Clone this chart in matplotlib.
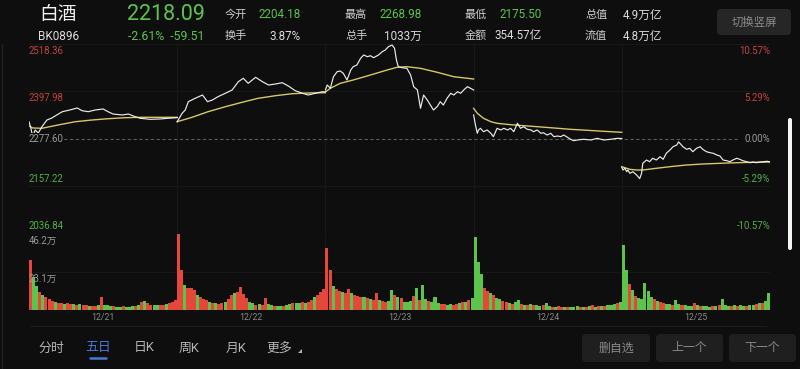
import numpy as np
import matplotlib
matplotlib.use("Agg")
import matplotlib.pyplot as plt
import matplotlib.transforms as mtransforms
from matplotlib.patches import FancyBboxPatch, Polygon

plt.rcParams['font.family'] = ['Roboto', 'Noto Sans CJK SC', 'DejaVu Sans']

# ---- data ----
prev_close = 2277.60
price_levels = [2518.36, 2397.98, 2277.60, 2157.22, 2036.84]
vol_levels = [46.2, 23.1]          # 万
days = ['12/21', '12/22', '12/23', '12/24', '12/25']

# price line, minute index within day -> price
p1_t = [0, 3, 6, 10, 15, 21, 29, 37, 45, 54, 66, 78, 86, 96, 107, 120, 128, 136, 151, 161, 169, 180, 196, 212, 225, 240]
p1 = [2320.4, 2304.4, 2282.2, 2299.3, 2291.6, 2307.7, 2324.7, 2329.8, 2337.5, 2345.9, 2350.2, 2355.3, 2348.4,
      2345.9, 2350.2, 2352.8, 2345.9, 2340.0, 2337.5, 2340.0, 2334.9, 2329.1, 2326.5, 2327.3, 2329.1, 2330.6]
p2_t = [0, 8, 13, 18, 29, 41, 49, 57, 66, 78, 89, 99, 107, 115, 127, 138, 148, 159, 170, 180, 191, 203, 212, 224, 235, 240]
p2 = [2320.4, 2341.8, 2350.2, 2371.4, 2380.0, 2388.4, 2371.4, 2375.7, 2384.1, 2392.8, 2401.2, 2422.3, 2431.0,
      2418.2, 2433.5, 2422.3, 2413.9, 2416.4, 2419.8, 2411.4, 2399.4, 2392.8, 2388.4, 2392.8, 2396.8, 2396.1]
p3_t = [0, 3, 8, 13, 19, 24, 29, 35, 41, 45, 51, 57, 62, 68, 73, 78, 86, 92, 97, 102, 108, 112, 115, 118, 124,
        132, 138, 143, 149, 154, 159, 165, 170, 175, 181, 186, 191, 197, 203, 208, 214, 219, 224, 230, 235, 240]
p3 = [2401.2, 2413.9, 2405.5, 2435.0, 2447.8, 2449.6, 2443.7, 2426.6, 2452.1, 2460.5, 2464.9, 2481.9, 2490.3,
      2486.0, 2488.5, 2483.5, 2490.3, 2498.7, 2503.1, 2511.5, 2515.8, 2507.4, 2477.6, 2460.5, 2458.0, 2456.4,
      2439.4, 2409.6, 2401.2, 2354.5, 2388.4, 2375.7, 2362.9, 2350.2, 2358.6, 2371.4, 2362.9, 2380.0, 2392.8,
      2388.4, 2396.8, 2392.8, 2401.2, 2409.6, 2405.5, 2401.2]
p4_t = [0, 3, 6, 8, 11, 16, 22, 28, 32, 38, 44, 49, 55, 60, 65, 71, 76, 81, 87, 93, 97, 103, 109, 113, 119,
        125, 130, 136, 141, 146, 152, 157, 162, 168, 178, 190, 200, 211, 222, 233, 240]
p4 = [2337.5, 2312.0, 2290.8, 2299.3, 2303.6, 2294.9, 2299.3, 2290.8, 2282.2, 2303.6, 2299.3, 2303.6, 2299.3,
      2303.6, 2294.9, 2316.3, 2303.6, 2307.7, 2301.0, 2299.3, 2294.9, 2299.3, 2290.8, 2292.4, 2286.5, 2290.8,
      2282.2, 2284.0, 2282.2, 2286.5, 2280.7, 2275.6, 2272.0, 2273.8, 2275.6, 2273.8, 2278.1, 2273.8, 2275.6,
      2278.1, 2277.6]
p5_t = [0, 2, 5, 8, 10, 13, 18, 24, 29, 32, 34, 40, 45, 50, 56, 62, 67, 72, 78, 83, 89, 92, 99, 105, 110,
        115, 121, 127, 131, 137, 143, 148, 154, 159, 164, 170, 175, 180, 186, 191, 196, 202, 208, 212, 218,
        224, 229, 235, 240]
p5 = [2204.2, 2197.3, 2201.7, 2193.0, 2197.3, 2188.9, 2193.0, 2184.6, 2175.5, 2188.9, 2214.4, 2222.8, 2218.5,
      2227.2, 2222.8, 2231.2, 2224.6, 2239.9, 2248.3, 2256.7, 2261.0, 2269.0, 2256.7, 2250.1, 2252.6, 2244.0,
      2252.6, 2256.7, 2250.1, 2244.0, 2241.4, 2239.9, 2235.6, 2233.0, 2222.8, 2221.0, 2218.5, 2222.8, 2227.2,
      2224.6, 2221.0, 2218.5, 2215.9, 2217.7, 2215.9, 2217.7, 2218.5, 2219.5, 2218.1]

# average price line
a1_t = [0, 6, 21, 47, 75, 102, 128, 156, 183, 209, 240]
a1 = [2309.4, 2304.4, 2303.6, 2312.0, 2320.4, 2324.7, 2328.0, 2330.6, 2331.6, 2331.6, 2331.6]
a2_t = [0, 24, 50, 78, 105, 131, 159, 186, 212, 240]
a2 = [2320.4, 2331.6, 2345.9, 2358.6, 2369.8, 2380.0, 2386.6, 2391.7, 2393.5, 2394.3]
a3_t = [0, 8, 24, 45, 73, 100, 116, 132, 154, 181, 208, 240]
a3 = [2396.1, 2405.5, 2418.2, 2426.6, 2439.4, 2452.1, 2459.0, 2460.5, 2456.4, 2446.3, 2435.0, 2429.2]
a4_t = [0, 6, 16, 28, 38, 60, 81, 103, 130, 157, 184, 211, 240]
a4 = [2354.5, 2341.8, 2329.1, 2320.4, 2316.3, 2312.8, 2310.2, 2307.7, 2304.4, 2301.0, 2298.5, 2295.9, 2293.4]
a5_t = [0, 13, 24, 34, 56, 78, 105, 131, 159, 186, 212, 240]
a5 = [2205.8, 2199.1, 2197.3, 2197.3, 2201.7, 2205.8, 2210.1, 2212.6, 2214.4, 2215.9, 2217.0, 2217.7]

# volume, 5-minute buckets (万)
v1 = [30.4, 20.1, 14.6, 10.9, 9.1, 7.9, 6.7, 5.5, 4.9, 4.3, 4.3, 3.6, 4.3, 3.6, 3.6, 3.0,
      3.6, 3.0, 3.0, 2.4, 2.4, 2.4, 3.0, 7.9, 3.0, 3.0, 2.4, 2.4, 1.8, 1.8, 2.4, 1.8,
      1.8, 2.4, 2.4, 3.0, 4.9, 5.5, 4.3, 3.0, 3.0, 3.0, 3.0, 3.0, 3.6, 4.3, 4.9, 6.1]
v2 = [46.2, 24.3, 15.2, 13.4, 13.4, 12.2, 9.1, 7.9, 6.7, 6.1, 4.9, 4.3, 4.3, 3.6, 4.3, 4.9,
      6.7, 9.1, 10.3, 10.9, 14.0, 9.7, 7.3, 4.9, 4.3, 3.0, 3.6, 3.0, 7.3, 3.6, 3.0, 2.4,
      2.4, 2.4, 2.4, 3.0, 3.6, 4.3, 4.3, 4.3, 4.9, 4.3, 4.9, 6.1, 7.9, 9.1, 10.9, 12.8]
v3 = [37.7, 24.3, 14.6, 12.8, 11.6, 10.9, 10.3, 12.8, 10.3, 9.1, 8.5, 7.9, 7.9, 7.3, 6.7, 6.1,
      10.3, 6.1, 5.5, 4.9, 5.5, 12.2, 9.1, 7.9, 7.3, 4.9, 4.9, 5.5, 8.5, 13.4, 6.1, 15.2,
      6.7, 5.5, 4.9, 7.9, 4.3, 3.6, 3.6, 3.0, 3.6, 3.0, 3.6, 4.3, 4.9, 4.9, 6.1, 7.3]
v4 = [44.4, 29.2, 21.9, 13.4, 11.6, 10.3, 9.1, 7.3, 6.7, 5.5, 4.9, 4.3, 3.6, 4.9, 6.1, 3.6,
      3.0, 3.0, 3.6, 3.0, 3.0, 2.4, 3.0, 4.3, 2.4, 1.8, 1.8, 2.4, 1.8, 1.8, 1.8, 1.8,
      1.8, 2.4, 1.8, 1.8, 1.8, 2.4, 3.0, 1.8, 2.4, 2.4, 2.4, 3.0, 3.0, 3.6, 4.3, 4.9]
v5 = [39.5, 24.3, 15.8, 12.2, 8.5, 7.3, 6.7, 16.4, 11.6, 7.9, 6.7, 5.5, 4.9, 4.3, 3.6, 3.6,
      3.0, 6.1, 3.6, 3.0, 3.0, 2.4, 2.4, 4.3, 3.0, 2.4, 2.4, 2.4, 1.8, 2.4, 2.4, 3.0,
      6.7, 3.0, 2.4, 2.4, 3.0, 2.4, 3.0, 2.4, 2.4, 3.0, 3.0, 3.6, 4.3, 4.3, 5.5, 10.3]
# r = up bar, g = down bar
c1 = "rggrgrrr" "grrgrrgr" "grrgrrgr" "gggrggrg" "ggrgrgrr" "ggrrgrrr"
c2 = "rrgrrrgr" "rrgrgrrg" "rrgrrrrg" "grgrrggr" "ggrggrgg" "rgrrgrrr"
c3 = "rrgrrgrr" "grrrgrgr" "rgrrggrg" "rgggrgrg" "grgggrrg" "grrgrgrg"
c4 = "gggrrgrg" "grrgrggr" "grgrggrg" "grgrrgrg" "ggrgrgrg" "rgrgggrg"
c5 = "ggrgrggg" "ggrgrrgg" "rggrgggr" "grgggrgr" "gggrgrgg" "rggrgrgg"

header_name = '白酒'
header_code = 'BK0896'
header_last = '2218.09'
header_chg = '-2.61%  -59.51'
stat_names = [['今开', '换手'], ['最高', '总手'], ['最低', '金额'], ['总值', '流值']]
stat_vals = [['2204.18', '3.87%'], ['2268.98', '1033万'], ['2175.50', '354.57亿'], ['4.9万亿', '4.8万亿']]
stat_up = [[False, None], [False, None], [False, None], [None, None]]
tabs = ['分时', '五日', '日K', '周K', '月K', '更多']
buttons = ['删自选', '上一个', '下一个']

# ---- style ----
BG = '#0e0e0e'
RED = '#e5483b'
GREEN = '#5cc44a'
LRED = '#c4463e'
LGREEN = '#52b046'
TXT = '#dcdcdc'
GRID = '#181818'
W, H = 800, 369
MIN_PER_DAY = 240

fig = plt.figure(figsize=(W / 100, H / 100), dpi=100, facecolor=BG)

ui = fig.add_axes([0, 0, 1, 1])
ui.set_xlim(0, W)
ui.set_ylim(H, 0)
ui.axis('off')
ui.patch.set_visible(False)


def frac(x0, y0, x1, y1):
    return [x0 / W, 1 - y1 / H, (x1 - x0) / W, (y1 - y0) / H]


# price panel
ax = fig.add_axes(frac(29, 44, 770, 233))
ax.set_xlim(0, MIN_PER_DAY * len(days))
ax.set_ylim(price_levels[-1], price_levels[0])
ax.axis('off')

for lv in price_levels:
    if lv != prev_close:
        ax.axhline(lv, color=GRID, lw=0.8, zorder=0)
for d in range(1, len(days)):
    ax.axvline(d * MIN_PER_DAY, color=GRID, lw=0.8, zorder=0)
ax.axhline(prev_close, xmax=(738 - 29) / 741, color='#5a5a5a', lw=0.8, dashes=(3, 2.2), zorder=1)

price_sets = [(p1_t, p1, a1_t, a1), (p2_t, p2, a2_t, a2), (p3_t, p3, a3_t, a3),
              (p4_t, p4, a4_t, a4), (p5_t, p5, a5_t, a5)]
for d, (pt, pv, at, av) in enumerate(price_sets):
    off = d * MIN_PER_DAY
    ax.plot(np.array(at) + off, av, color='#d6c76a', lw=1.0, zorder=3)
    ax.plot(np.array(pt) + off, pv, color='#ececec', lw=0.85, zorder=4)

blend_l = mtransforms.blended_transform_factory(ax.transAxes, ax.transData)
for lv in price_levels:
    pct = (lv - prev_close) / prev_close * 100
    if lv > prev_close:
        col, va, dy = LRED, 'top', -1.5
    elif lv < prev_close:
        col, va, dy = LGREEN, 'bottom', 1.5
    else:
        col, va, dy = '#9a9a9a', 'center', 0
    bb = dict(boxstyle='square,pad=0.05', fc=BG, ec='none') if lv == prev_close else None
    ax.annotate(f'{lv:.2f}', xy=(0, lv), xycoords=blend_l, xytext=(0, dy), textcoords='offset points',
                ha='left', va=va, fontsize=6.9, color=col, bbox=bb, zorder=5)
    ax.annotate(f'{abs(pct):.2f}%' if lv == prev_close else f'{pct:.2f}%', xy=(1, lv), xycoords=blend_l,
                xytext=(0, dy), textcoords='offset points', ha='right', va=va, fontsize=6.9, color=col,
                zorder=5)

# volume panel
vax = fig.add_axes(frac(29, 234, 770, 310))
vax.set_xlim(0, MIN_PER_DAY * len(days))
vax.set_ylim(0, vol_levels[0])
vax.axis('off')
vax.axhline(vol_levels[1], color=GRID, lw=0.8, zorder=0)
for d in range(1, len(days)):
    vax.axvline(d * MIN_PER_DAY, color=GRID, lw=0.8, zorder=0)

for d, (vv, cc) in enumerate([(v1, c1), (v2, c2), (v3, c3), (v4, c4), (v5, c5)]):
    xs = d * MIN_PER_DAY + np.arange(len(vv)) * 5 + 2.5
    cols = [RED if c == 'r' else GREEN for c in cc]
    vax.bar(xs, vv, width=4.9, color=cols, linewidth=0, zorder=2)

blend_v = mtransforms.blended_transform_factory(vax.transAxes, vax.transData)
for lv in vol_levels:
    vax.annotate(f'{lv}万', xy=(0, lv), xycoords=blend_v, xytext=(0, -1.5), textcoords='offset points',
                 ha='left', va='top', fontsize=6.9, color='#9a9a9a', zorder=5)
for d, lab in enumerate(days):
    vax.annotate(lab, xy=(d * MIN_PER_DAY + MIN_PER_DAY / 2, 0), xycoords='data', xytext=(0, -2),
                 textcoords='offset points', ha='center', va='top', fontsize=6.3, color='#8a8a8a')

# ---- header ----
ui.text(58, 15, header_name, fontsize=13.5, color='#f2f2f2', ha='center', va='center')
ui.text(59, 36, header_code, fontsize=8.5, color=TXT, ha='center', va='center')
ui.text(127, 15, header_last, fontsize=15.5, color=GREEN, ha='left', va='center')
ui.text(128, 36, header_chg, fontsize=8.8, color=GREEN, ha='left', va='center')

lab_x = [225, 345, 465, 585]
val_r = [301, 422, 542, 662]
for i in range(4):
    for r, yy in enumerate([15, 36]):
        ui.text(lab_x[i], yy, stat_names[i][r], fontsize=8, color='#cfcfcf', ha='left', va='center')
        col = GREEN if stat_up[i][r] is False else TXT
        ui.text(val_r[i], yy, stat_vals[i][r], fontsize=8.4, color=col, ha='right', va='center')

ui.add_patch(FancyBboxPatch((717, 9), 74, 26, boxstyle='round,pad=0,rounding_size=4',
                            fc='#262626', ec='none'))
ui.text(754, 22, '切换竖屏', fontsize=8.2, color='#8c8c8c', ha='center', va='center')

# side markers
ui.plot([2, 2], [44, H], color='#222222', lw=1)
ui.add_patch(FancyBboxPatch((788, 118), 4, 132, boxstyle='round,pad=0,rounding_size=2',
                            fc='#f4f4f4', ec='none'))

# ---- bottom bar ----
ui.plot([30, 766], [326, 326], color='#1c1c1c', lw=0.8)
tab_x = [38, 85, 134, 179, 226, 266]
for i, t in enumerate(tabs):
    ui.text(tab_x[i], 348, t, fontsize=9.3, color='#4a78d6' if t == '五日' else '#b4b4b4',
            ha='left', va='center')
ui.plot([90, 106], [357.5, 357.5], color='#4a78d6', lw=1.8, solid_capstyle='round')
ui.add_patch(Polygon([[298, 353], [302, 349], [302, 353]], closed=True, fc='#b4b4b4', ec='none'))

btn_x = [(582, 650), (656, 723), (729, 796)]
for (x0, x1), b in zip(btn_x, buttons):
    ui.add_patch(FancyBboxPatch((x0, 334), x1 - x0, 28, boxstyle='round,pad=0,rounding_size=4',
                                fc='#1f1f1f', ec='none'))
    ui.text((x0 + x1) / 2, 348, b, fontsize=8.6, color='#8a8a8a', ha='center', va='center')

fig.savefig('out.png', dpi=100, facecolor=BG)
